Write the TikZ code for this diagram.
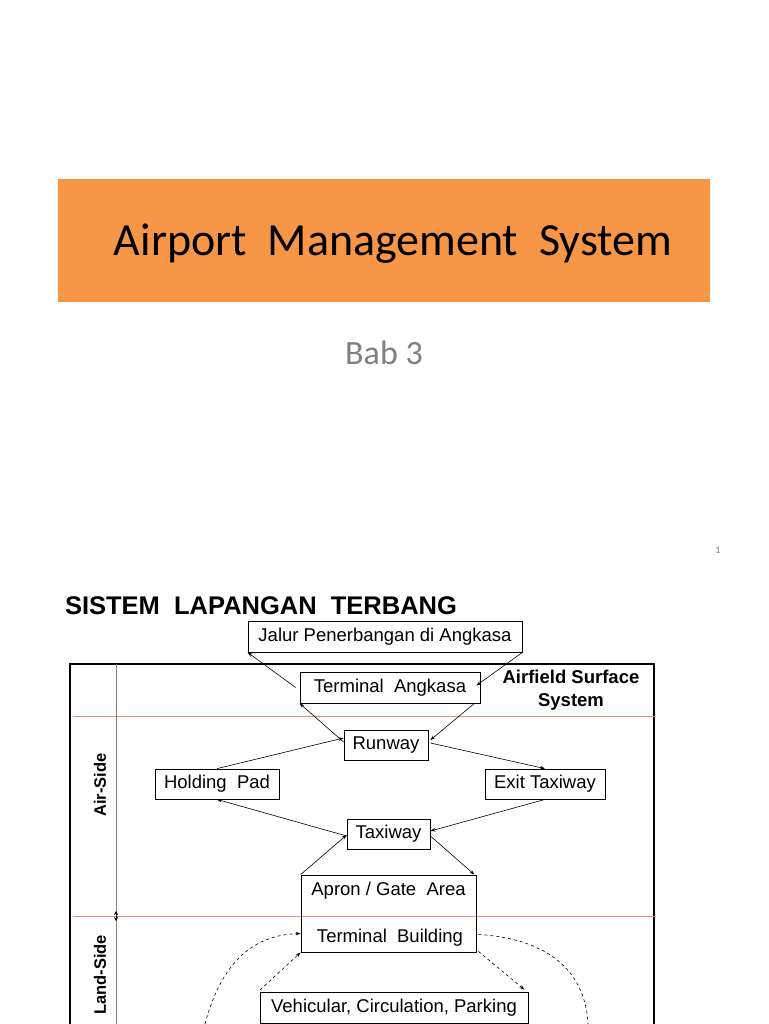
\documentclass[tikz,border=0pt]{standalone}
\usepackage{fontspec}
\setmainfont{Liberation Sans}
\newfontfamily\carl{Carlito}
\usetikzlibrary{arrows.meta,calc}
\begin{document}
\begin{tikzpicture}[x=1pt,y=-1pt,
  bx/.style={draw,line width=0.8pt,inner sep=0pt,font=\fontsize{18.5}{21}\selectfont},
  ar/.style={-{Stealth[length=5pt,width=3.5pt]},line width=0.6pt},
  da/.style={ar,dashed},
  redl/.style={draw={rgb,255:red,250;green,130;blue,130},line width=0.9pt}]
\useasboundingbox (0,0) rectangle (768,1024);
\fill[white] (0,0) rectangle (768,1024);
\fill[fill={rgb,255:red,247;green,150;blue,70}] (58,179) rectangle (710,302);
\node (title) at (393,244) {\carl\fontsize{46}{50}\selectfont Airport\ \ Management\ \ System};
\node[text=gray] (bab) at (384,353) {\carl\fontsize{34}{38}\selectfont Bab 3};
\node[text=gray] (pg) at (718,550) {\carl\fontsize{10}{12}\selectfont 1};
\node (sis) at (261,606) {\fontsize{25.5}{28}\selectfont\bfseries SISTEM\ \ LAPANGAN\ \ TERBANG};
% frame
\draw[line width=2.2pt] (70,1030) -- (70,664) -- (654,664) -- (654,1030);
\draw[redl] (73,716) -- (656,716);
\draw[redl] (73,916) -- (656,916);
\draw[gray,line width=0.8pt] (116,664) -- (116,1024);
\draw[line width=0.6pt,{Stealth[length=4pt,width=4pt]}-{Stealth[length=4pt,width=4pt]}] (116,911) -- (116,921);
\node[rotate=90] (air) at (100,785) {\fontsize{16.5}{19}\selectfont\bfseries Air-Side};
\node[rotate=90] (land) at (100,975) {\fontsize{16.5}{19}\selectfont\bfseries Land-Side};
\node[align=center,font=\fontsize{18.5}{23}\selectfont\bfseries] (afs) at (571,690) {Airfield Surface\\System};
% boxes
\node[bx,minimum width=274,minimum height=31] (jal) at (385,636.5) {Jalur Penerbangan di Angkasa};
\node[bx,minimum width=180,minimum height=31] (ta) at (390,687.5) {Terminal\ \ Angkasa};
\node[bx,minimum width=84,minimum height=30] (rw) at (386,745) {Runway};
\node[bx,minimum width=124,minimum height=30] (hp) at (217,784) {Holding\ \ Pad};
\node[bx,minimum width=120,minimum height=30] (et) at (545,784) {Exit Taxiway};
\node[bx,minimum width=83,minimum height=30] (tw) at (388.5,834) {Taxiway};
\node[bx,minimum width=175,minimum height=77] (ap) at (388.5,913.5) {};
\node[font=\fontsize{18.5}{21}\selectfont] (apt) at (388.5,891) {Apron / Gate\ \ Area};
\node[font=\fontsize{18.5}{21}\selectfont] (tb) at (390,938) {Terminal\ \ Building};
\node[bx,minimum width=268,minimum height=31] (veh) at (394,1007.5) {Vehicular, Circulation, Parking};
% arrows
\draw[ar] ($(ta.west)+(-4,0)$) -- (jal.south west);
\draw[ar] (jal.south east) -- ($(ta.east)+(-4,-2)$);
\draw[ar] ($(rw.west)+(0,-3)$) -- (ta.south west);
\draw[ar] ($(ta.south east)+(-6,0)$) -- ($(rw.east)+(2,-5)$);
\draw[ar] (hp.north) -- ($(rw.west)+(0,-7)$);
\draw[ar] ($(rw.east)+(2,-2)$) -- (et.north);
\draw[ar] ($(tw.west)+(0,2)$) -- (hp.south);
\draw[ar] (et.south) -- ($(tw.east)+(0,-3)$);
\draw[ar] (ap.north west) -- ($(tw.west)+(0,1)$);
\draw[ar] ($(tw.east)+(0,2)$) -- ($(ap.north east)+(-2,0)$);
\coordinate (l0) at (205,1024);
\coordinate (r0) at (588,1024);
\coordinate (l1) at (260,990);
\draw[da] (l0) .. controls (222,960) and (255,935) .. ($(ap.west)+(0,20)$);
\draw[da] (l1) -- (ap.south west);
\draw[dashed,line width=0.6pt] ($(ap.east)+(2,21)$) .. controls (540,938) and (585,965) .. (r0);
\draw[da] ($(ap.south east)+(2,-1)$) -- ($(veh.north east)+(-4,-2)$);
\end{tikzpicture}
\end{document}
